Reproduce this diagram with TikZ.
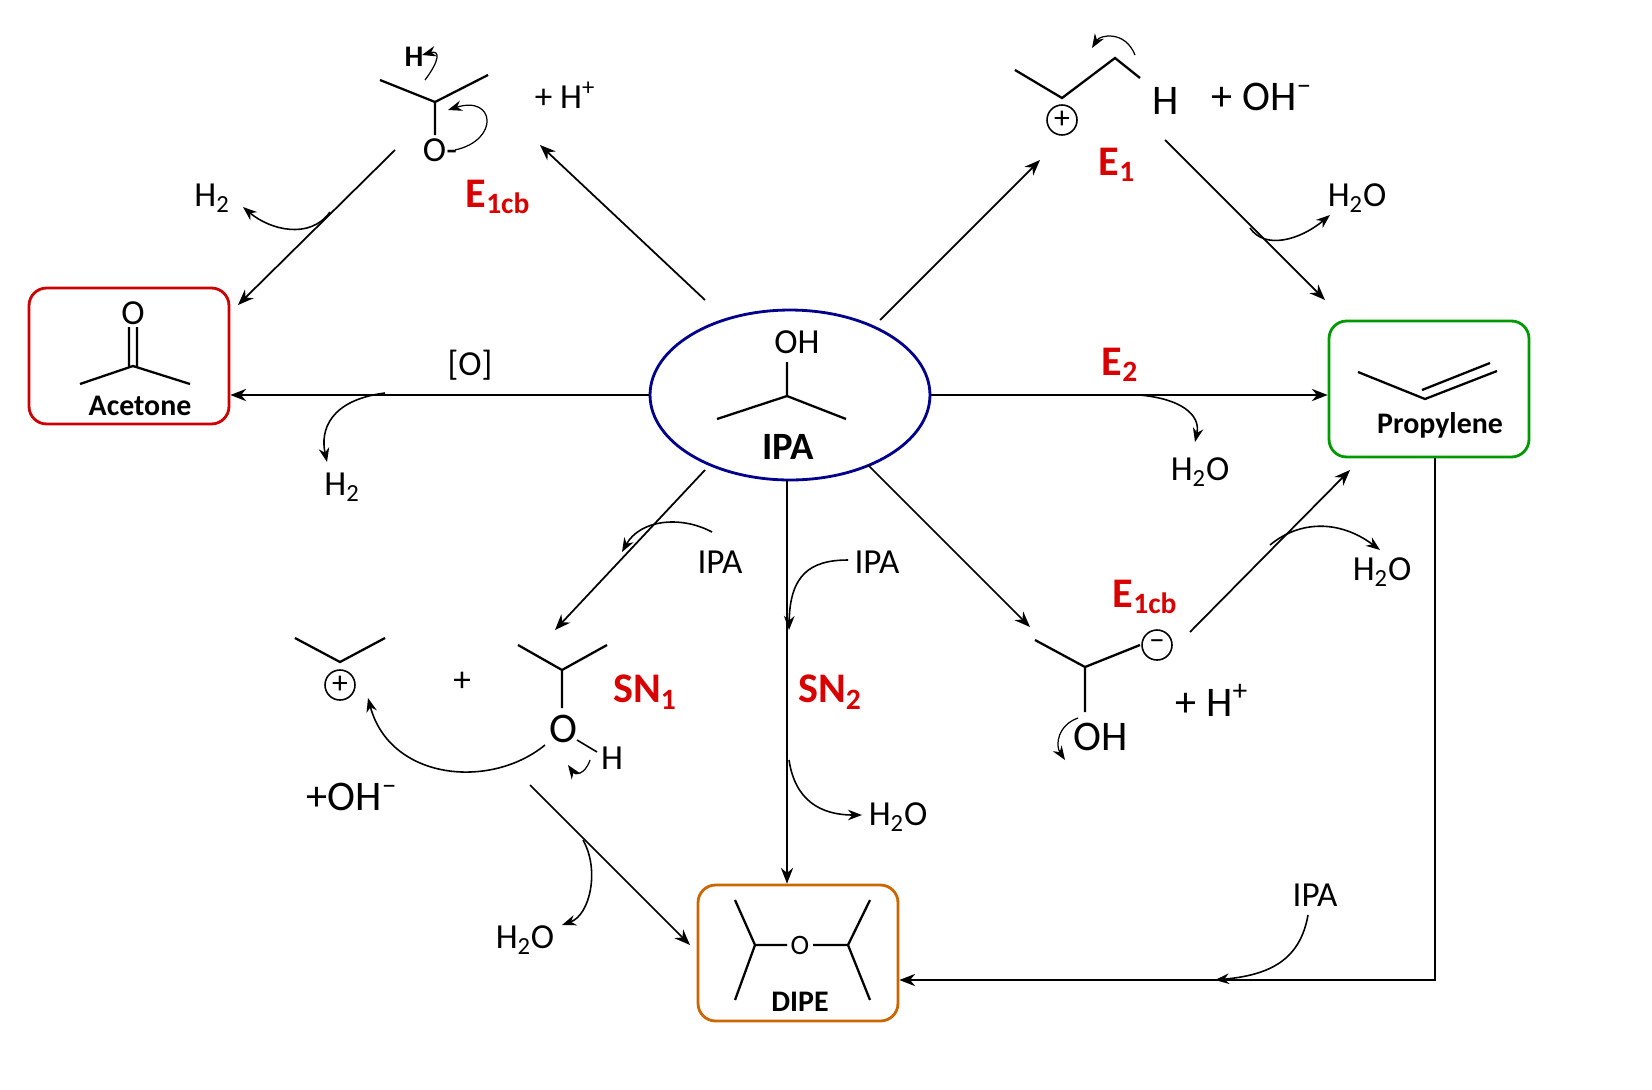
\documentclass[tikz,border=0pt]{standalone}
\usepackage{fontspec}
\setmainfont{Carlito}
\usetikzlibrary{shapes,arrows.meta,positioning}
\begin{document}
\begin{tikzpicture}[x=0.02cm,y=-0.02cm]
\useasboundingbox (0,0) rectangle (1652,1089);
  \tikzset{main node/.style={rectangle, draw, rounded corners=10pt, line width=1.6pt,
      minimum width=4cm, minimum height=2.72cm}, }
  \tikzset{linea/.style={-{Stealth[length=9pt,width=7pt]}, line width=1pt}, }
  \tikzset{side/.style={-{Stealth[length=8pt,width=6pt]}, line width=0.9pt}, }
  \tikzset{bond/.style={line width=1.3pt}, }
  \tikzset{lbl/.style={font=\fontsize{20}{24}\selectfont, inner sep=1pt}, }
  \tikzset{rlbl/.style={font=\fontsize{24}{28}\selectfont\bfseries, text=red!85!black, inner sep=1pt}, }
  \tikzset{chg/.style={circle, draw, line width=0.9pt, inner sep=0pt, minimum size=0.6cm, font=\fontsize{18}{18}\selectfont}, }
%% boxes
\node[main node, draw=red!80!black] (ace) at (129,356) {};
\node[main node, draw=green!60!black] (pro) at (1429,389) {};
\node[main node, draw=orange!80!black] (dipe) at (798,953) {};
\node[ellipse, draw=blue!55!black, line width=1.6pt, minimum width=5.6cm, minimum height=3.4cm] (ipa) at (790,395) {};
%% molecules
\node[font=\fontsize{17}{20}\selectfont\bfseries] (acet) at (140,406) {Acetone};
\node[lbl] (aco) at (133,313) {O};
\draw[bond] (129,327) -- (129,366) (137,327) -- (137,366) (80,384) -- (133,366) -- (190,384);
\node[lbl] (ipaoh) at (797,342) {OH};
\node[font=\fontsize{22}{24}\selectfont\bfseries] (ipat) at (788,447) {IPA};
\draw[bond] (787,362) -- (787,396) (717,419) -- (787,396) -- (846,419);
\node[font=\fontsize{17}{20}\selectfont\bfseries] (prot) at (1440,425) {Propylene};
\draw[bond] (1358,372) -- (1425,399) -- (1497,371) (1422,390) -- (1490,363);
\node[font=\fontsize{17}{20}\selectfont\bfseries] (dipet) at (800,1002) {DIPE};
\node[font=\fontsize{16}{18}\selectfont] (dipeo) at (800,945) {O};
\draw[bond] (735,900) -- (755,945) -- (735,1000) (755,945) -- (787,945)
  (813,945) -- (848,945) (870,900) -- (848,945) -- (870,1000);
%% E1cb alkoxide
\draw[bond] (380,80) -- (435,102) -- (488,75) (435,102) -- (435,135);
\node[font=\fontsize{17}{20}\selectfont\bfseries] (hh) at (414,57) {H};
\node[lbl] (om) at (440,150) {O-};
\draw[side, line width=0.7pt] (425,80) .. controls (440,60) and (440,50) .. (422,55);
\draw[side, line width=0.7pt] (455,150) .. controls (500,140) and (495,95) .. (448,110);
\node[lbl] (hp1) at (565,95) {+ H\textsuperscript{+}};
\node[rlbl] (e1cba) at (498,197) {E\textsubscript{1cb}};
%% E1 carbocation
\draw[bond] (1015,70) -- (1062,98) -- (1115,58) -- (1140,78);
\node[chg] (plus1) at (1062,120) {+};
\node[lbl, font=\fontsize{24}{28}\selectfont] (h1) at (1166,101) {H};
\node[lbl, font=\fontsize{24}{28}\selectfont] (oh1) at (1262,97) {+ OH\textsuperscript{–}};
\draw[side, line width=0.7pt] (1135,55) .. controls (1125,30) and (1100,35) .. (1092,48);
\node[rlbl] (e1) at (1117,165) {E\textsubscript{1}};
%% E1cb carbanion
\draw[bond] (1035,640) -- (1085,667) -- (1140,645) (1085,667) -- (1085,712);
\node[chg] (minus1) at (1157,645) {–};
\node[lbl, font=\fontsize{24}{28}\selectfont] (oh2) at (1101,737) {OH};
\node[lbl, font=\fontsize{24}{28}\selectfont] (hp2) at (1212,700) {+ H\textsuperscript{+}};
\draw[side, line width=0.7pt] (1078,718) .. controls (1058,725) and (1055,745) .. (1065,760);
\node[rlbl] (e1cbb) at (1145,597) {E\textsubscript{1cb}};
%% SN1
\draw[bond] (295,638) -- (340,662) -- (385,638) (518,645) -- (562,670) -- (607,645) (562,670) -- (562,708);
\node[chg] (plus2) at (340,685) {+};
\node[lbl] (plus3) at (462,682) {+};
\node[lbl, font=\fontsize{24}{28}\selectfont] (o2) at (563,729) {O};
\node[lbl] (h3) at (612,758) {H};
\draw[bond, line width=0.9pt] (577,740) -- (597,752);
\draw[side, line width=0.7pt] (590,760) .. controls (585,775) and (575,775) .. (568,765);
\node[lbl, font=\fontsize{24}{28}\selectfont] (oh3) at (352,797) {+OH\textsuperscript{–}};
\draw[side] (545,745) .. controls (490,790) and (390,780) .. (368,698);
\node[rlbl] (sn1) at (645,692) {SN\textsubscript{1}};
\node[rlbl] (sn2) at (830,692) {SN\textsubscript{2}};
%% side labels
\node[lbl] (o) at (470,365) {[O]};
\node[lbl] (h2a) at (342,487) {H\textsubscript{2}};
\node[lbl] (h2b) at (212,198) {H\textsubscript{2}};
\node[rlbl] (e2) at (1120,365) {E\textsubscript{2}};
\node[lbl] (wa) at (1200,472) {H\textsubscript{2}O};
\node[lbl] (wb) at (1357,198) {H\textsubscript{2}O};
\node[lbl] (wc) at (1382,572) {H\textsubscript{2}O};
\node[lbl] (wd) at (898,817) {H\textsubscript{2}O};
\node[lbl] (we) at (525,940) {H\textsubscript{2}O};
\node[lbl] (ia) at (720,562) {IPA};
\node[lbl] (ib) at (877,562) {IPA};
\node[lbl] (ic) at (1315,895) {IPA};
%% main arrows
\draw[linea] (ipa.west) -- (ace.east |- ipa.west);
\draw[linea] (ipa.east) -- (pro.west |- ipa.east);
\draw[linea] (705,300) -- (540,145);
\draw[linea] (395,150) -- (238,305);
\draw[linea] (880,320) -- (1040,160);
\draw[linea] (1165,140) -- (1325,300);
\draw[linea] (705,470) -- (555,630);
\draw[linea] (787,480) -- (dipe.north -| 787,0);
\draw[linea] (868,465) -- (1030,627);
\draw[linea] (1190,632) -- (1350,470);
\draw[linea] (530,785) -- (690,945);
\coordinate (corner) at (1435,980);
\draw[linea] (pro.south -| corner) -- (corner) -- (dipe.east |- corner);
%% side arrows
\draw[side] (385,393) .. controls (330,400) and (320,430) .. (327,462);
\draw[side] (1140,395) .. controls (1190,400) and (1200,420) .. (1195,442);
\draw[side] (330,212) .. controls (310,240) and (270,230) .. (243,207);
\draw[side] (1250,228) .. controls (1265,250) and (1300,240) .. (1330,215);
\draw[side] (1270,545) .. controls (1300,520) and (1340,520) .. (1380,550);
\draw[side] (712,532) .. controls (680,515) and (640,520) .. (622,552);
\draw[side] (848,560) .. controls (810,560) and (790,575) .. (789,630);
\draw[side] (789,760) .. controls (795,800) and (820,815) .. (862,815);
\draw[side] (583,840) .. controls (600,870) and (590,915) .. (562,925);
\draw[side] (1308,915) .. controls (1300,960) and (1270,975) .. (1215,980);
\end{tikzpicture}
\end{document}
